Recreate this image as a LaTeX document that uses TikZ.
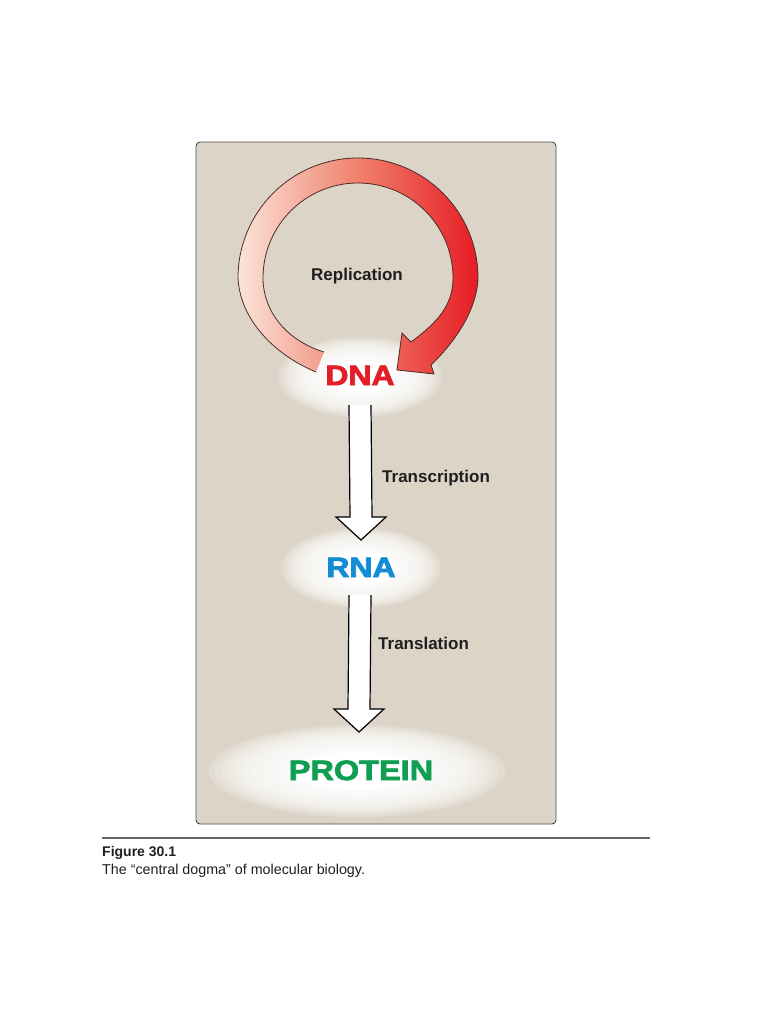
\documentclass[tikz,border=0pt]{standalone}
\usepackage{fontspec}
\setmainfont{Liberation Sans}
\newfontfamily\heavyfont{Liberation Sans}[UprightFont={* Bold}, UprightFeatures={FakeBold=2.5}]
\usepackage{tikz}
\usetikzlibrary{calc}

\definecolor{panelbg}{RGB}{221,212,200}
\definecolor{paneledge}{RGB}{80,76,72}
\definecolor{dnared}{RGB}{226,30,40}
\definecolor{rnablue}{RGB}{18,140,212}
\definecolor{protgreen}{RGB}{16,158,82}
\definecolor{ringedge}{RGB}{75,45,40}
\definecolor{ringlight}{RGB}{251,228,218}
\definecolor{ringmid}{RGB}{240,128,108}
\definecolor{ringdark}{RGB}{230,28,36}

% soft white spot: centre, x radius, y radius
\newcommand{\glowspot}[3]{%
  \foreach \f in {1.00,0.96,...,0.44}
    \fill[white, opacity=0.17] (#1) ellipse [x radius=\f*#2, y radius=\f*#3];
  \fill[white] (#1) ellipse [x radius=0.42*#2, y radius=0.42*#3];}

\newcommand{\bigarrow}[2]{%
  \draw[blockarrow] ($(#1)+(-11,0)$) -- ($(#2)+(-11,-23)$) -- ($(#2)+(-25,-23)$)
    -- (#2) -- ($(#2)+(25,-23)$) -- ($(#2)+(11,-23)$) -- ($(#1)+(11,0)$);}

\begin{document}
\begin{tikzpicture}[x=1pt,y=-1pt,
  every node/.style={inner sep=0pt, font=\bfseries\fontsize{17}{20}\selectfont, text=black!88},
  word/.style={anchor=base, font=\heavyfont\fontsize{28}{30}\selectfont},
  blockarrow/.style={fill=white, draw=black, line width=1.2pt, line join=miter},
  ringarrow/.style={left color=ringlight, right color=ringdark, middle color=ringmid,
    draw=ringedge, line width=0.8pt}]
  \fill[white] (0,0) rectangle (768,1024);
  \useasboundingbox (0,0) rectangle (768,1024);

  % panel
  \draw[fill=panelbg, draw=paneledge, line width=0.9pt, rounded corners=4pt] (196,142) rectangle (556,824);

  % glows behind the words
  \glowspot{360,377}{82}{40}
  \glowspot{361,568}{80}{40}
  \glowspot{357,771}{148}{46}

  % replication ring
  \draw[ringarrow] (316,372) .. controls (275,355) and (240,320) .. (238,278)
    arc[start angle=180, end angle=360, radius=120]
    .. controls (477,312) and (452,345) .. (431,365)
    -- (434,374) -- (397,370) -- (402,333) -- (411,342)
    .. controls (438,322) and (453,305) .. (453,278)
    arc[start angle=0, end angle=-180, radius=95]
    .. controls (263,310) and (285,340) .. (324,352);

  \node[anchor=base] (repl) at (357,280) {Replication};
  \node[word, text=dnared] (dna) at (360,385) {\scalebox{1.14}[1]{DNA}};
  \node[word, text=rnablue] (rna) at (361,577) {\scalebox{1.14}[1]{RNA}};
  \node[word, text=protgreen] (protein) at (361,780) {\scalebox{1.16}[1]{PROTEIN}};

  % transcription and translation
  \coordinate (dnaout) at ($(dna.base)+(0,20)$);
  \coordinate (rnain) at ($(rna.base)+(0,-37)$);
  \coordinate (rnaout) at ($(rna.base)+(-1,18)$);
  \coordinate (protin) at ($(protein.base)+(-2,-48)$);
  \bigarrow{dnaout}{rnain}
  \bigarrow{rnaout}{protin}
  \node[anchor=base west] (transc) at (382,482) {Transcription};
  \node[anchor=base west] (transl) at (378,649) {Translation};

  % caption
  \draw[draw=black!60, line width=1.4pt] (102,838) -- (650,838);
  \node[anchor=base west, font=\bfseries\fontsize{14}{16}\selectfont] (fig) at (102,856) {Figure 30.1};
  \node[anchor=base west, font=\fontsize{14.3}{16}\selectfont] (capt) at (102,874)
    {The “central dogma” of molecular biology.};
\end{tikzpicture}
\end{document}
